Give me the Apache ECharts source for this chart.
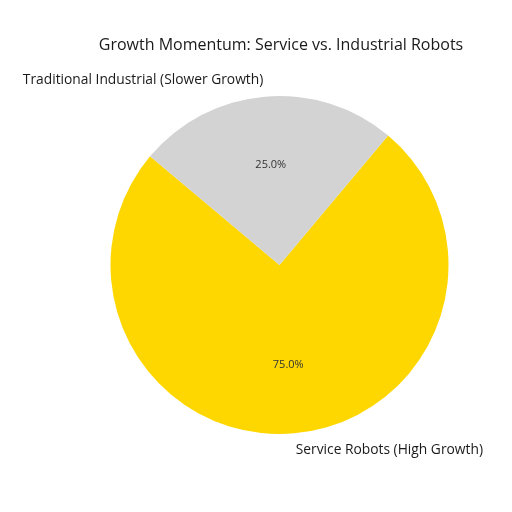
<!DOCTYPE html>
<html><head><meta charset="utf-8">
<script src="https://cdn.jsdelivr.net/npm/echarts@6/dist/echarts.min.js"></script>
<style>html,body{margin:0;padding:0;background:#fff}#c{width:512px;height:512px}</style>
</head><body><div id="c"></div>
<script>
const categories = ['Service Robots (High Growth)', 'Traditional Industrial (Slower Growth)'];
const values = [75, 25];
const colors = ['#FFD700', '#D3D3D3'];
const titleText = 'Growth Momentum: Service vs. Industrial Robots';

const FONT = '"Open Sans", sans-serif';
const R = 169;
const center = [279.5, 265];
const data = categories.map((n, i) => ({ name: n, value: values[i], itemStyle: { color: colors[i] } }));

const chart = echarts.init(document.getElementById('c'), null, { renderer: 'canvas' });
chart.setOption({
  animation: false,
  backgroundColor: '#ffffff',
  title: {
    text: titleText, left: 276, top: 32, textAlign: 'center',
    textStyle: { fontFamily: FONT, fontSize: 16, fontWeight: 'normal', color: '#1a1a1a' }
  },
  series: [
    {
      type: 'pie', center: center, radius: [0, R], startAngle: 140, clockwise: false,
      avoidLabelOverlap: false, silent: true,
      data: data,
      itemStyle: { borderWidth: 0 },
      label: {
        show: true, position: 'outside', formatter: '{b}', distanceToLabelLine: 0,
        fontFamily: FONT, fontSize: 13.8, color: '#1a1a1a'
      },
      labelLine: { show: false, length: 17, length2: 0 },
      emphasis: { disabled: true }
    },
    {
      type: 'pie', center: center, radius: [R * 0.15, R], startAngle: 140, clockwise: false,
      avoidLabelOverlap: false, silent: true,
      data: categories.map((n, i) => ({ name: n, value: values[i], itemStyle: { color: 'rgba(0,0,0,0)' } })),
      label: {
        show: true, position: 'inside',
        formatter: p => p.percent.toFixed(1) + '%',
        fontFamily: FONT, fontSize: 11, color: '#333333'
      },
      labelLine: { show: false },
      emphasis: { disabled: true }
    }
  ]
});
</script></body></html>
